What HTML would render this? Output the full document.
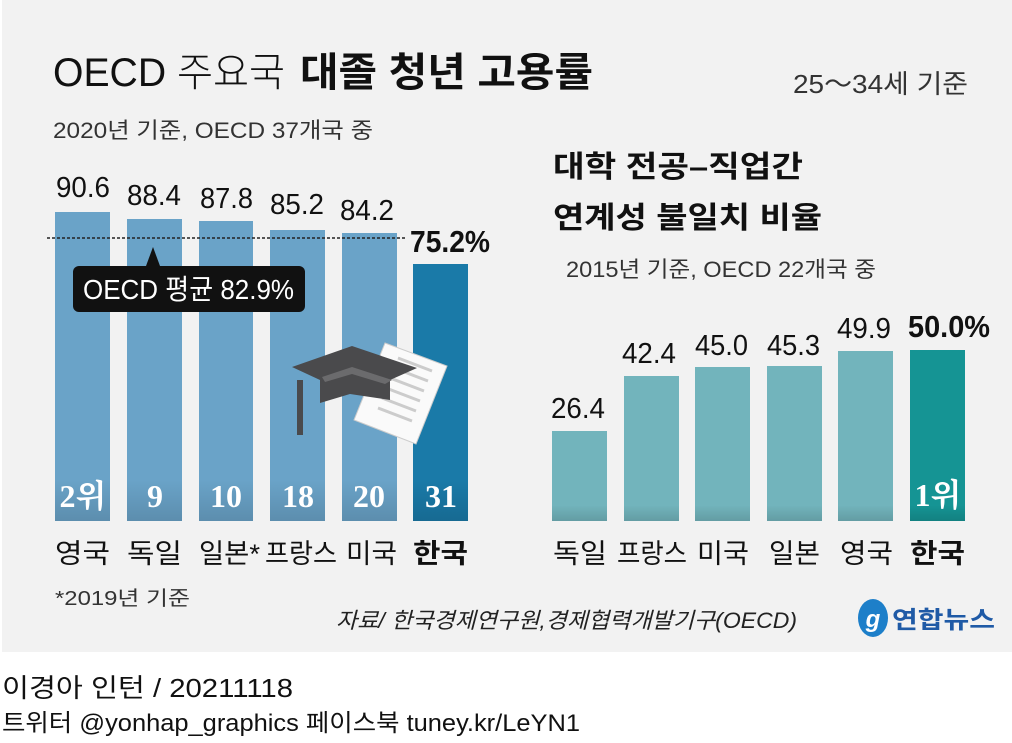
<!DOCTYPE html>
<html><head><meta charset="utf-8"><style>
body{margin:0;background:#fff}
svg{display:block}
text{font-family:"Liberation Sans","Noto Sans CJK KR",sans-serif}
.s text,text.s{font-family:"Liberation Serif","Noto Serif CJK SC",serif;font-weight:bold;fill:#fff}
</style></head><body>
<svg width="1012" height="743" viewBox="0 0 1012 743" xmlns="http://www.w3.org/2000/svg">
<defs>
<linearGradient id="sh" x1="0" y1="0" x2="0" y2="1"><stop offset="0" stop-color="#000" stop-opacity="0"/><stop offset="1" stop-color="#000" stop-opacity="0.22"/></linearGradient>
</defs>
<rect x="2" y="0" width="1010" height="652" fill="#f2f2f2"/>
<rect x="0" y="652" width="1012" height="91" fill="#fff"/>
<text x="53" y="86" font-size="40" textLength="232" lengthAdjust="spacingAndGlyphs" fill="#111" font-weight="300">OECD 주요국</text>
<text x="300" y="86" font-size="40" font-weight="bold" textLength="293" lengthAdjust="spacingAndGlyphs" fill="#111">대졸 청년 고용률</text>
<text x="793" y="93" font-size="26" textLength="175" lengthAdjust="spacingAndGlyphs" fill="#333">25～34세 기준</text>
<text x="53" y="138" font-size="22" textLength="320" lengthAdjust="spacingAndGlyphs" fill="#333">2020년 기준, OECD 37개국 중</text>
<text x="553" y="177" font-size="30" font-weight="bold" textLength="250" lengthAdjust="spacingAndGlyphs" fill="#111">대학 전공–직업간</text>
<text x="553" y="228" font-size="30" font-weight="bold" textLength="269" lengthAdjust="spacingAndGlyphs" fill="#111">연계성 불일치 비율</text>
<text x="566" y="277" font-size="22" textLength="310" lengthAdjust="spacingAndGlyphs" fill="#333">2015년 기준, OECD 22개국 중</text>
<!-- left bars -->
<g fill="#6aa3c8">
<rect x="55" y="212" width="55" height="309"/><rect x="127" y="219" width="55" height="302"/><rect x="199" y="221" width="54" height="300"/><rect x="270" y="230" width="55" height="291"/><rect x="342" y="233" width="55" height="288"/></g>
<rect x="413" y="264" width="55" height="257" fill="#1a7aa8"/>
<rect x="55" y="480" width="413" height="41" fill="url(#sh)" opacity="0.6"/>
<rect x="110" y="480" width="17" height="41" fill="#f2f2f2"/><rect x="182" y="480" width="17" height="41" fill="#f2f2f2"/><rect x="253" y="480" width="17" height="41" fill="#f2f2f2"/><rect x="325" y="480" width="17" height="41" fill="#f2f2f2"/><rect x="397" y="480" width="16" height="41" fill="#f2f2f2"/>
<line x1="47" y1="238" x2="407" y2="238" stroke="#222" stroke-width="1.5" stroke-dasharray="3,2"/>
<path d="M146 266 L153 247 L160 266 Z" fill="#111"/>
<rect x="73" y="266" width="232" height="46" rx="6" fill="#111"/>
<text x="83" y="299" font-size="28" fill="#fff" textLength="211" lengthAdjust="spacingAndGlyphs">OECD 평균 82.9%</text>
<g font-size="29" fill="#111">
<text x="56" y="197" textLength="54" lengthAdjust="spacingAndGlyphs">90.6</text><text x="127" y="205" textLength="54" lengthAdjust="spacingAndGlyphs">88.4</text><text x="200" y="208" textLength="53" lengthAdjust="spacingAndGlyphs">87.8</text><text x="270" y="214" textLength="54" lengthAdjust="spacingAndGlyphs">85.2</text><text x="340" y="220" textLength="54" lengthAdjust="spacingAndGlyphs">84.2</text></g>
<text x="410" y="252" font-size="31" font-weight="bold" fill="#111" textLength="80" lengthAdjust="spacingAndGlyphs">75.2%</text>
<!-- cap & paper -->
<polygon points="385,343 447,366 416,444 354,420" fill="#fafafa" stroke="#ccc"/>
<g stroke="#ccc" stroke-width="3"><line x1="398" y1="358" x2="432" y2="371"/><line x1="394" y1="368" x2="428" y2="381"/><line x1="390" y1="378" x2="424" y2="391"/><line x1="386" y1="388" x2="420" y2="401"/><line x1="382" y1="398" x2="416" y2="411"/><line x1="378" y1="408" x2="412" y2="421"/></g>
<polygon points="292,367 352,346 417,368 390,380 390,400 350,394 320,403 320,380" fill="#4a4a4c"/>
<polygon points="322,377 352,367 392,380 385,384 352,374 325,382" fill="#6b6b6d"/>
<rect x="297" y="380" width="6" height="55" fill="#4a4a4c"/>
<g class="s" font-size="32" text-anchor="middle">
<text x="83" y="507">2위</text><text x="155" y="507">9</text><text x="226" y="507">10</text><text x="298" y="507">18</text><text x="369" y="507">20</text><text x="441" y="507">31</text></g>
<g font-size="27" fill="#111">
<text x="55" y="563" textLength="55" lengthAdjust="spacingAndGlyphs">영국</text>
<text x="127" y="563" textLength="55" lengthAdjust="spacingAndGlyphs">독일</text>
<text x="199" y="563" textLength="61" lengthAdjust="spacingAndGlyphs">일본*</text>
<text x="265" y="563" textLength="72" lengthAdjust="spacingAndGlyphs">프랑스</text>
<text x="346" y="563" textLength="51" lengthAdjust="spacingAndGlyphs">미국</text>
<text x="413" y="563" textLength="55" lengthAdjust="spacingAndGlyphs" font-weight="bold">한국</text>
</g>
<!-- right bars -->
<g fill="#72b4bc">
<rect x="552" y="431" width="55" height="90"/><rect x="624" y="376" width="55" height="145"/><rect x="695" y="367" width="55" height="154"/><rect x="767" y="366" width="55" height="155"/><rect x="838" y="351" width="55" height="170"/></g>
<rect x="910" y="350" width="55" height="171" fill="#159494"/>
<rect x="552" y="505" width="413" height="16" fill="url(#sh)" opacity="0.6"/>
<rect x="607" y="505" width="17" height="16" fill="#f2f2f2"/><rect x="679" y="505" width="16" height="16" fill="#f2f2f2"/><rect x="750" y="505" width="17" height="16" fill="#f2f2f2"/><rect x="822" y="505" width="16" height="16" fill="#f2f2f2"/><rect x="893" y="505" width="17" height="16" fill="#f2f2f2"/>
<g font-size="29" fill="#111">
<text x="551" y="418" textLength="54" lengthAdjust="spacingAndGlyphs">26.4</text><text x="622" y="363" textLength="54" lengthAdjust="spacingAndGlyphs">42.4</text><text x="695" y="355" textLength="53" lengthAdjust="spacingAndGlyphs">45.0</text><text x="767" y="355" textLength="53" lengthAdjust="spacingAndGlyphs">45.3</text><text x="837" y="338" textLength="54" lengthAdjust="spacingAndGlyphs">49.9</text></g>
<text x="908" y="337" font-size="31" font-weight="bold" fill="#111" textLength="82" lengthAdjust="spacingAndGlyphs">50.0%</text>
<text x="938" y="506" class="s" font-size="32" text-anchor="middle">1위</text>
<g font-size="27" fill="#111">
<text x="553" y="563" textLength="54" lengthAdjust="spacingAndGlyphs">독일</text>
<text x="617" y="563" textLength="70" lengthAdjust="spacingAndGlyphs">프랑스</text>
<text x="697" y="563" textLength="52" lengthAdjust="spacingAndGlyphs">미국</text>
<text x="769" y="563" textLength="51" lengthAdjust="spacingAndGlyphs">일본</text>
<text x="840" y="563" textLength="53" lengthAdjust="spacingAndGlyphs">영국</text>
<text x="910" y="563" textLength="55" lengthAdjust="spacingAndGlyphs" font-weight="bold">한국</text>
</g>
<text x="55" y="605" font-size="20" fill="#333" textLength="135" lengthAdjust="spacingAndGlyphs">*2019년 기준</text>
<text x="336" y="628" font-size="22" font-style="italic" fill="#222" textLength="461" lengthAdjust="spacingAndGlyphs">자료/ 한국경제연구원,경제협력개발기구(OECD)</text>
<ellipse cx="873" cy="618" rx="15" ry="19" fill="#1d7fc9"/>
<text x="873" y="627" font-size="24" font-style="italic" font-weight="bold" fill="#fff" text-anchor="middle">g</text>
<text x="892" y="628" font-size="24" font-weight="bold" fill="#1f5aa6" textLength="103" lengthAdjust="spacingAndGlyphs">연합뉴스</text>
<text x="2" y="697" font-size="26" fill="#111" textLength="291" lengthAdjust="spacingAndGlyphs">이경아 인턴 / 20211118</text>
<text x="2" y="731" font-size="24" fill="#111" textLength="578" lengthAdjust="spacingAndGlyphs">트위터 @yonhap_graphics  페이스북 tuney.kr/LeYN1</text>
</svg>
</body></html>
